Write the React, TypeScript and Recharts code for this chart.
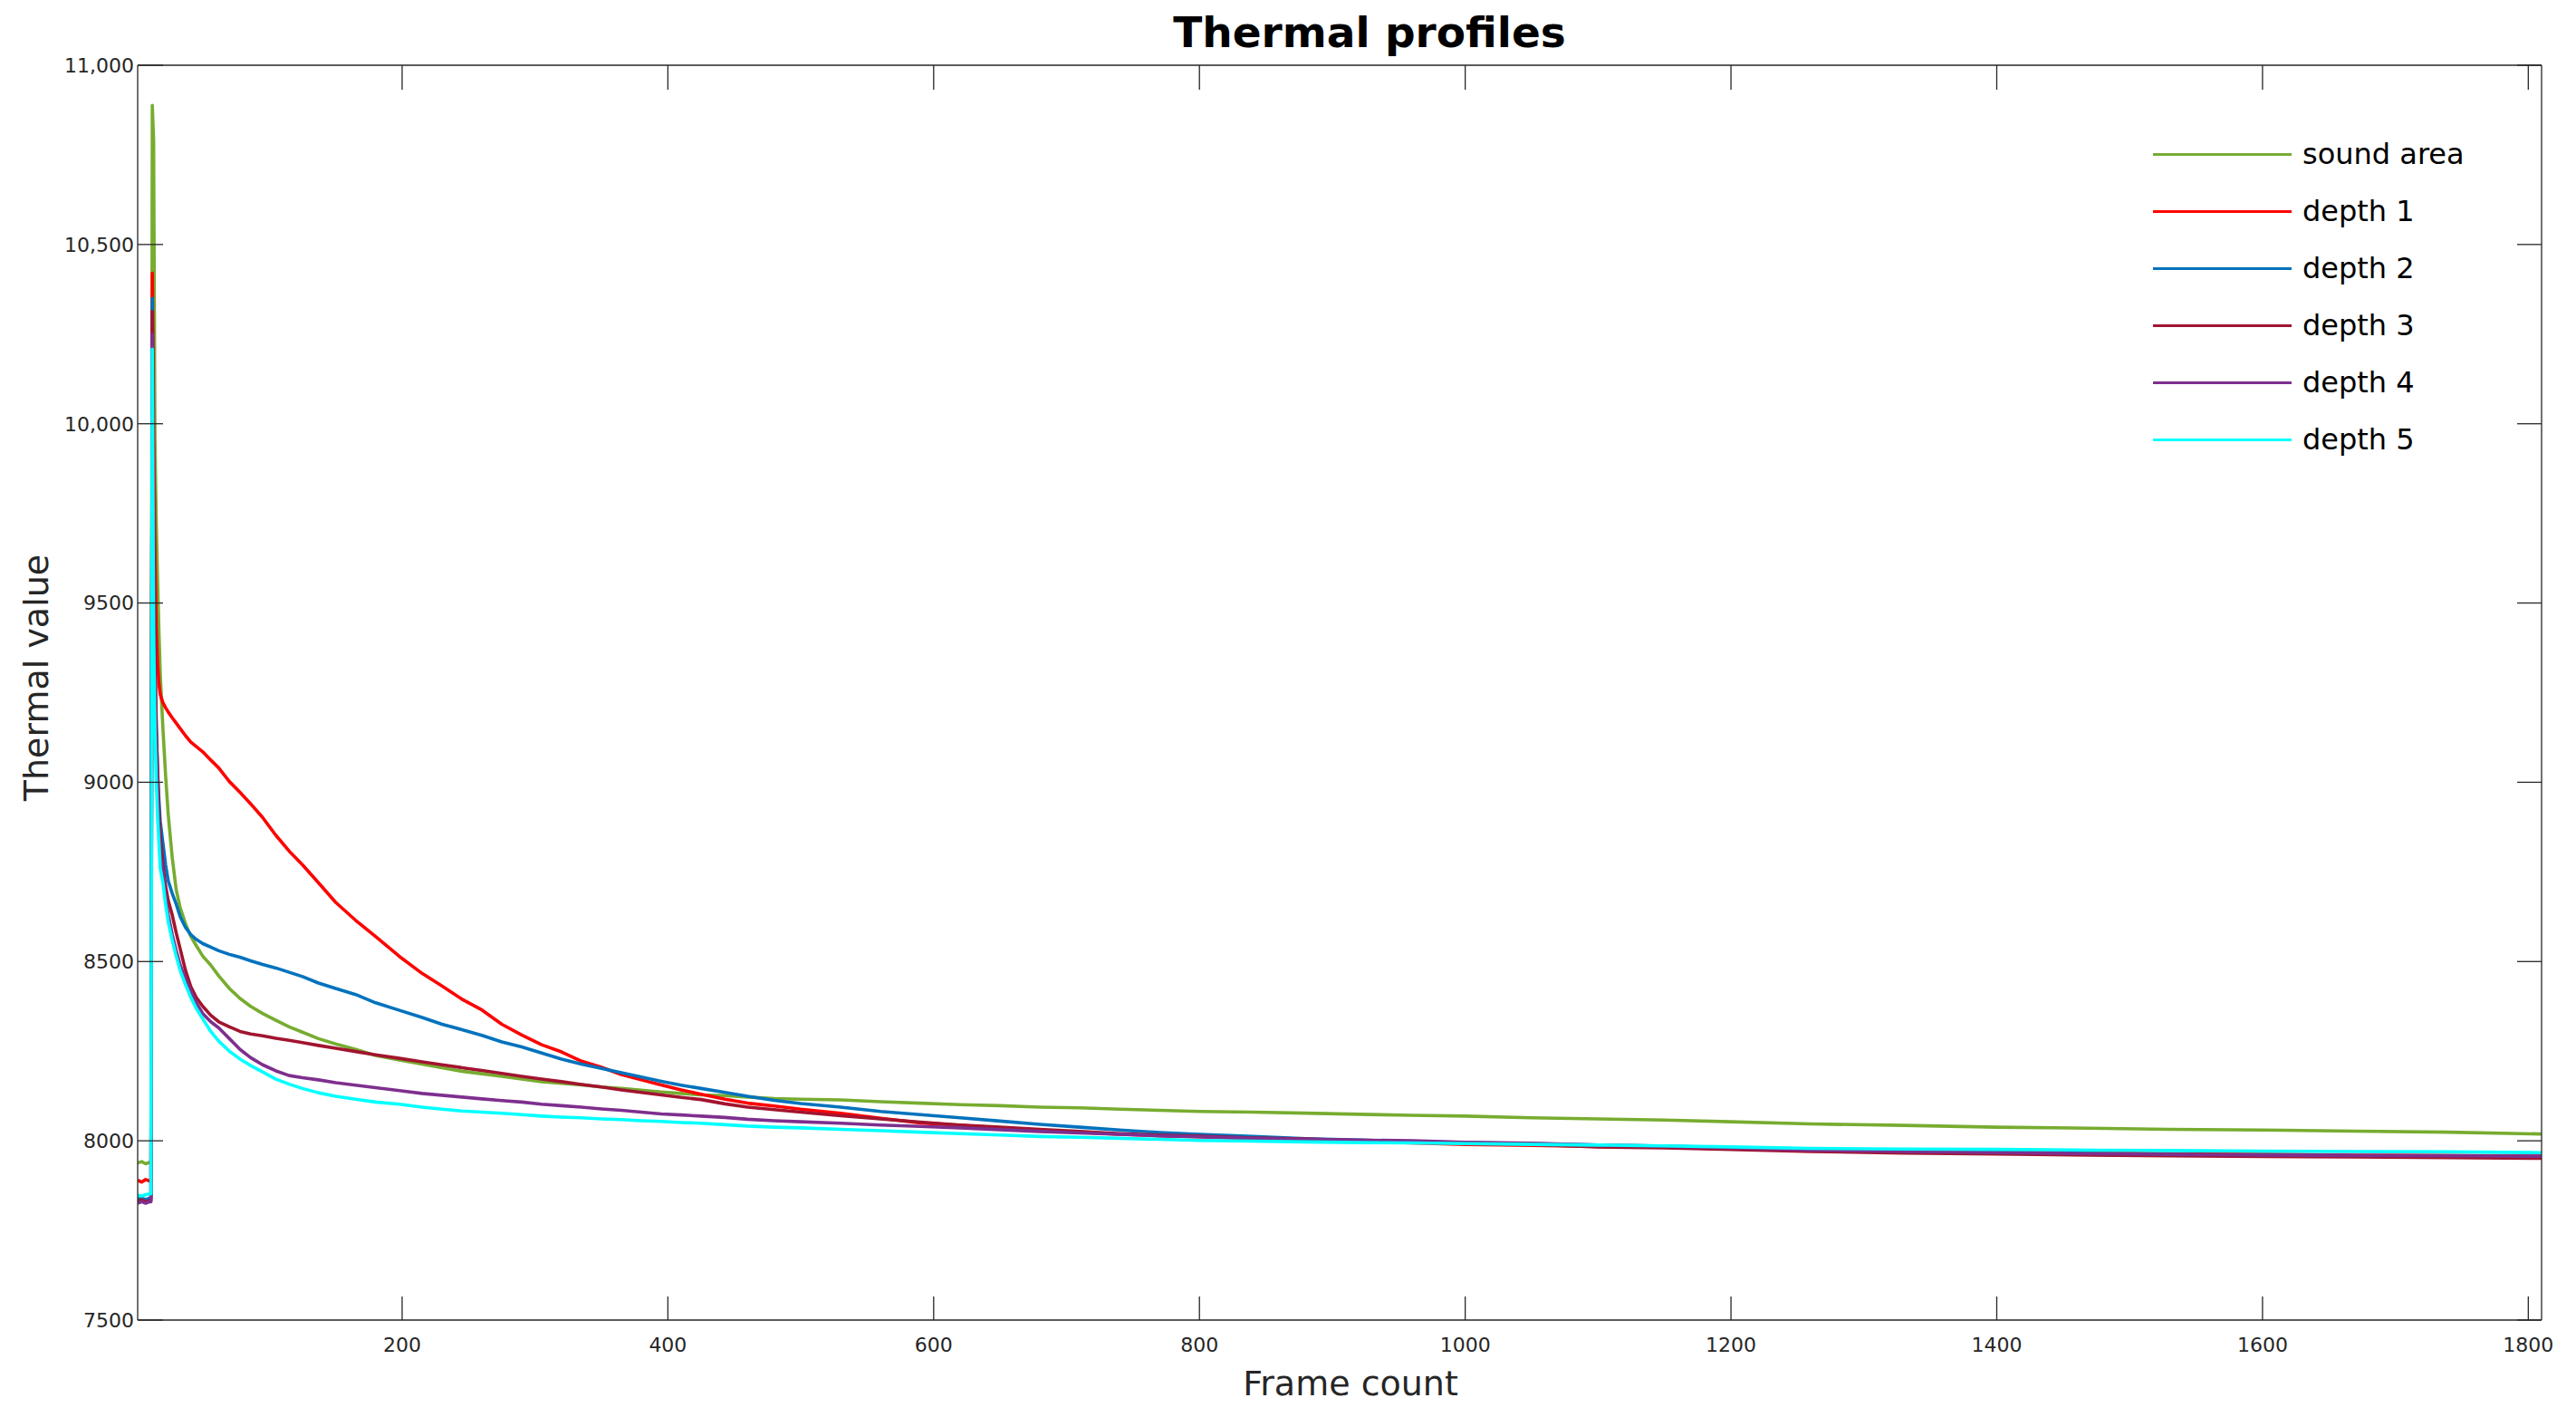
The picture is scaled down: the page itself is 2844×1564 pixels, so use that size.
import React from 'react';
import { LineChart, Line, XAxis, YAxis, Legend } from 'recharts';

const frames = [
  1, 4, 7, 10, 11, 12, 13, 14, 15, 16, 17, 18, 20, 22, 24, 27, 30, 33, 37, 41,
  45, 50, 56, 62, 70, 78, 86, 95, 105, 115, 125, 137, 150, 165, 180, 198, 215, 230, 245, 260,
  275, 290, 305, 320, 335, 350, 365, 380, 395, 410, 425, 443, 460, 480, 500, 530, 560, 590, 620, 650,
  680, 710, 740, 770, 800, 840, 880, 920, 960, 1000, 1050, 1100, 1150, 1200, 1260, 1330, 1400, 1470, 1530, 1600,
  1670, 1740, 1810,
];

const soundArea = [
  7938, 7942, 7936, 7940, 7940, 10888, 10790, 9950, 9720, 9560,
  9420, 9300, 9150, 9020, 8910, 8790, 8700, 8650, 8605, 8570,
  8545, 8515, 8490, 8460, 8425, 8397, 8375, 8355, 8336, 8318,
  8303, 8285, 8270, 8255, 8238, 8225, 8214, 8204, 8194, 8187,
  8180, 8172, 8165, 8160, 8156, 8150, 8146, 8141, 8136, 8132,
  8128, 8126, 8122, 8118, 8116, 8114, 8109, 8105, 8101, 8098,
  8094, 8092, 8088, 8085, 8082, 8080, 8077, 8074, 8071, 8069,
  8064, 8061, 8058, 8053, 8047, 8043, 8038, 8035, 8032, 8030,
  8027, 8024, 8019,
];

const depth1 = [
  7890, 7885, 7892, 7888, 7890, 10420, 10000, 9650, 9430, 9330,
  9275, 9245, 9222, 9208, 9196, 9180, 9165, 9150, 9130, 9112,
  9100, 9085, 9062, 9040, 9002, 8972, 8940, 8902, 8852, 8808,
  8770, 8720, 8665, 8615, 8570, 8514, 8467, 8432, 8395, 8365,
  8325, 8295, 8268, 8248, 8222, 8205, 8185, 8170, 8156, 8142,
  8130, 8116, 8105, 8097, 8088, 8077, 8063, 8050, 8043, 8036,
  8029, 8024, 8018, 8014, 8011, 8006, 8002, 7998, 7994, 7990,
  7987, 7984, 7982, 7978, 7974, 7972, 7969, 7967, 7964, 7963,
  7960, 7959, 7957,
];

const depth2 = [
  7838, 7840, 7836, 7840, 7840, 10350, 9620, 9300, 9150, 9030,
  8950, 8890, 8830, 8770, 8725, 8690, 8660, 8625, 8595, 8575,
  8562, 8550, 8540, 8530, 8520, 8512, 8502, 8492, 8482, 8470,
  8458, 8440, 8425, 8408, 8385, 8364, 8344, 8325, 8310, 8294,
  8276, 8262, 8245, 8228, 8214, 8202, 8190, 8178, 8166, 8155,
  8146, 8135, 8124, 8113, 8104, 8094, 8082, 8073, 8064, 8055,
  8046, 8038, 8030, 8023, 8018, 8012, 8006, 8002, 7998, 7995,
  7992, 7988, 7985, 7981, 7976, 7972, 7968, 7965, 7962, 7960,
  7958, 7956, 7954,
];

const depth3 = [
  7832, 7835, 7830, 7834, 7834, 10313, 9700, 9400, 9150, 9020,
  8920, 8850, 8770, 8710, 8670, 8630, 8580, 8535, 8475, 8430,
  8400, 8375, 8350, 8332, 8318, 8305, 8298, 8293, 8286, 8280,
  8274, 8266, 8258, 8249, 8240, 8230, 8220, 8212, 8204, 8196,
  8188, 8180, 8172, 8165, 8157, 8150, 8142, 8135, 8128, 8121,
  8115, 8103, 8094, 8087, 8080, 8070, 8061, 8052, 8044, 8038,
  8032, 8026, 8020, 8016, 8013, 8008, 8005, 8000, 7996, 7993,
  7990, 7983, 7980, 7976, 7970, 7966, 7963, 7960, 7958, 7956,
  7955, 7953, 7951,
];

const depth4 = [
  7826, 7830, 7826, 7830, 7830, 10250, 9500, 9200, 9080, 8960,
  8870, 8800, 8750, 8680, 8630, 8575, 8530, 8490, 8450, 8418,
  8385, 8355, 8332, 8315, 8285, 8255, 8232, 8212, 8195, 8182,
  8176, 8170, 8162, 8155, 8148, 8140, 8132, 8127, 8122, 8117,
  8112, 8108, 8102, 8098, 8094, 8089, 8085, 8080, 8075, 8072,
  8069, 8065, 8060, 8056, 8053, 8049, 8044, 8040, 8036, 8031,
  8026, 8022, 8018, 8014, 8011, 8007, 8004, 8002, 8000, 7996,
  7993, 7988, 7985, 7980, 7974, 7970, 7967, 7964, 7962, 7960,
  7959, 7958, 7957,
];

const depth5 = [
  7848, 7846, 7850, 7852, 7852, 10208, 9420, 9150, 9000, 8900,
  8830, 8760, 8720, 8660, 8610, 8560, 8515, 8475, 8435, 8400,
  8370, 8340, 8305, 8278, 8250, 8228, 8210, 8192, 8172, 8158,
  8146, 8134, 8124, 8116, 8108, 8102, 8094, 8088, 8083, 8080,
  8077, 8073, 8069, 8066, 8064, 8061, 8059, 8056, 8054, 8051,
  8049, 8045, 8041, 8038, 8036, 8032, 8028, 8024, 8020, 8016,
  8012, 8010, 8007, 8004, 8001, 7999, 7997, 7995, 7994, 7992,
  7990, 7988, 7986, 7983, 7979, 7977, 7976, 7974, 7973, 7971,
  7970, 7969, 7967,
];

const seriesKeys = ['s0', 's1', 's2', 's3', 's4', 's5'];
const seriesNames = ['sound area', 'depth 1', 'depth 2', 'depth 3', 'depth 4', 'depth 5'];
const seriesColors = ['#77AC30', '#FF0000', '#0072BD', '#A2142F', '#7E2F8E', '#00FFFF'];
const seriesValues = [soundArea, depth1, depth2, depth3, depth4, depth5];

const xTicks = [200, 400, 600, 800, 1000, 1200, 1400, 1600, 1800];
const yTicks = [7500, 8000, 8500, 9000, 9500, 10000, 10500, 11000];
const yTickLabels = ['7500', '8000', '8500', '9000', '9500', '10,000', '10,500', '11,000'];

const xDomain = [1, 1810];
const yDomain = [7500, 11000];

const data = frames.map((f, i) => {
  const row: Record<string, number> = { frame: f };
  seriesKeys.forEach((k, j) => {
    row[k] = seriesValues[j][i];
  });
  return row;
});

const AXIS = '#262626';
const FONT = '"DejaVu Sans", sans-serif';
const W = 2828;
const H = 1548;

const BottomTick = (props: any) => {
  const { x, y, payload } = props;
  return (
    <g>
      <line x1={x} y1={y} x2={x} y2={y - 26} stroke={AXIS} strokeWidth={1.3} />
      <text x={x} y={y + 19} dy="0.71em" textAnchor="middle" fontSize={22} fill={AXIS} fontFamily={FONT}>
        {payload.value}
      </text>
    </g>
  );
};

const LeftTick = (props: any) => {
  const { x, y, payload } = props;
  const idx = yTicks.indexOf(payload.value);
  return (
    <g>
      <line x1={x} y1={y} x2={x + 28} y2={y} stroke={AXIS} strokeWidth={1.3} />
      <text x={x - 4} y={y} dy="0.36em" textAnchor="end" fontSize={22} fill={AXIS} fontFamily={FONT}>
        {idx >= 0 ? yTickLabels[idx] : payload.value}
      </text>
    </g>
  );
};

const TopTick = (props: any) => {
  const { x, y } = props;
  return <line x1={x} y1={y} x2={x} y2={y + 27} stroke={AXIS} strokeWidth={1.3} />;
};

const RightTick = (props: any) => {
  const { x, y } = props;
  return <line x1={x} y1={y} x2={x - 27} y2={y} stroke={AXIS} strokeWidth={1.3} />;
};

const LegendContent = () => (
  <div style={{ fontFamily: FONT }}>
    {seriesNames.map((n, i) => (
      <div key={n} style={{ display: 'flex', alignItems: 'center', height: 63 }}>
        <div style={{ width: 153, height: 3, background: seriesColors[i], marginRight: 12 }} />
        <span style={{ fontSize: 32, color: '#000', lineHeight: '63px', whiteSpace: 'nowrap' }}>{n}</span>
      </div>
    ))}
  </div>
);

export default function App() {
  return (
    <div style={{ position: 'relative', width: W, height: H, fontFamily: FONT }}>
      <LineChart
        width={W}
        height={H}
        data={data}
        margin={{ top: 63, right: 29, bottom: 98, left: 143 }}
      >
        <XAxis
          xAxisId="bottom"
          orientation="bottom"
          dataKey="frame"
          type="number"
          domain={xDomain}
          ticks={xTicks}
          interval={0}
          height={1}
          tickSize={0}
          tickMargin={0}
          tickLine={false}
          axisLine={{ stroke: AXIS, strokeWidth: 1.3 }}
          tick={BottomTick}
          allowDataOverflow
        />
        <XAxis
          xAxisId="top"
          orientation="top"
          dataKey="frame"
          type="number"
          domain={xDomain}
          ticks={xTicks}
          interval={0}
          height={1}
          tickSize={0}
          tickMargin={0}
          tickLine={false}
          axisLine={{ stroke: AXIS, strokeWidth: 1.3 }}
          tick={TopTick}
          allowDataOverflow
        />
        <YAxis
          yAxisId="left"
          orientation="left"
          type="number"
          domain={yDomain}
          ticks={yTicks}
          interval={0}
          width={1}
          tickSize={0}
          tickMargin={0}
          tickLine={false}
          axisLine={{ stroke: AXIS, strokeWidth: 1.3 }}
          tick={LeftTick}
          allowDataOverflow
        />
        <YAxis
          yAxisId="right"
          orientation="right"
          type="number"
          domain={yDomain}
          ticks={yTicks}
          interval={0}
          width={1}
          tickSize={0}
          tickMargin={0}
          tickLine={false}
          axisLine={{ stroke: AXIS, strokeWidth: 1.3 }}
          tick={RightTick}
          allowDataOverflow
        />
        {seriesKeys.map((k, i) => (
          <Line
            key={k}
            xAxisId="bottom"
            yAxisId="left"
            dataKey={k}
            name={seriesNames[i]}
            type="linear"
            stroke={seriesColors[i]}
            strokeWidth={3.6}
            strokeLinejoin="round"
            dot={false}
            activeDot={false}
            isAnimationActive={false}
          />
        ))}
        <Legend
          layout="vertical"
          align="center"
          verticalAlign="middle"
          content={LegendContent}
          wrapperStyle={{ position: 'absolute', left: 2369, top: 131, width: 420, height: 378 }}
        />
      </LineChart>
      <div
        style={{
          position: 'absolute',
          left: 1504,
          top: 4,
          transform: 'translateX(-50%)',
          fontSize: 47,
          lineHeight: '48px',
          fontWeight: 'bold',
          color: '#000',
          whiteSpace: 'nowrap',
        }}
      >
        Thermal profiles
      </div>
      <div
        style={{
          position: 'absolute',
          left: 1483,
          top: 1500,
          transform: 'translateX(-50%)',
          fontSize: 38,
          lineHeight: '38px',
          color: AXIS,
          whiteSpace: 'nowrap',
        }}
      >
        Frame count
      </div>
      <div
        style={{
          position: 'absolute',
          left: 32,
          top: 740,
          transform: 'translate(-50%, -50%) rotate(-90deg)',
          fontSize: 38,
          lineHeight: '38px',
          color: AXIS,
          whiteSpace: 'nowrap',
        }}
      >
        Thermal value
      </div>
    </div>
  );
}
